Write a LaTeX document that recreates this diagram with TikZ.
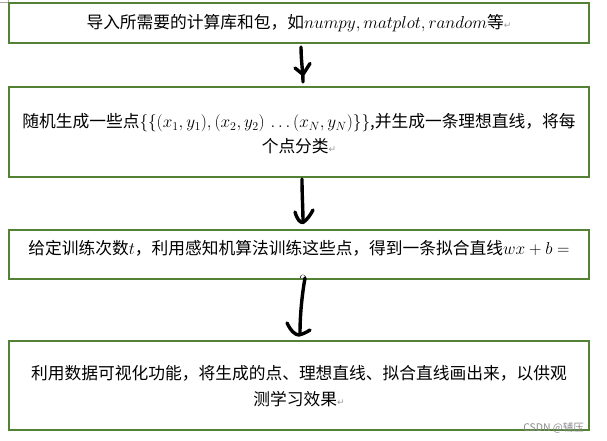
\documentclass[tikz,border=0pt]{standalone}
\usepackage{fontspec}
\newfontfamily\cjk{Noto Sans CJK SC}
\newfontfamily\symf{DejaVu Sans}
\usetikzlibrary{calc}
\definecolor{boxgreen}{RGB}{84,130,53}
\newcommand{\retmark}{{\color{black!40}\symf\fontsize{9}{9}\selectfont ↵}}
\tikzset{
  box/.style={draw=boxgreen, line width=2bp, minimum width=580bp, inner sep=0pt},
  txt/.style={anchor=base, inner sep=0pt, font=\cjk\fontsize{16.8}{20}\selectfont},
  hand/.style={draw=black, line width=3.4bp, line cap=round, line join=round},
  wmark/.style={anchor=base east, inner sep=0pt, text=black!45, font=\cjk\fontsize{10.5}{11}\selectfont}
}
\begin{document}
\begin{tikzpicture}[x=1bp, y=-1bp]
\useasboundingbox[fill=white] (0,0) rectangle (607,441);
% corner mark
\draw[black!35, line width=0.8bp] (0,2.5) -- (8,2.5) -- (8,0);
% boxes
\node[box, minimum height=40bp] (b1) at (299,23) {};
\node[box, minimum height=90bp] (b2) at (299,132) {};
\node[box, minimum height=49bp] (b3) at (299,254.5) {};
\node[box, minimum height=89bp] (b4) at (299,385.5) {};
% texts
\node[txt] (t1) at (299,29) {导入所需要的计算库和包，如$numpy, matplot, random$等\retmark};
\node[txt] (t2a) at (299,128) {随机生成一些点$\{\{(x_1,y_1),(x_2,y_2)\,\ldots(x_N,y_N)\}\}$,并生成一条理想直线，将每};
\node[txt] (t2b) at (299,153) {个点分类\retmark};
\node[txt] (t3) at (299,255) {给定训练次数$t$，利用感知机算法训练这些点，得到一条拟合直线$wx+b=$};
\begin{scope}
  \clip (10,231) rectangle (588,277.5);
  \node[txt] (t3b) at (303,287) {$0$};
\end{scope}
\node[txt] (t4a) at (299,379) {利用数据可视化功能，将生成的点、理想直线、拟合直线画出来，以供观};
\node[txt] (t4b) at (299,405) {测学习效果\retmark};
% hand-drawn arrows
\draw[hand] ($(b1.south)+(2,3)$) .. controls (301,60) and (303,72) .. ($(b2.north)+(4,-4)$);
\draw[hand] (295,68) -- (303,74.5) -- (310,63.5);
\draw[hand] ($(b2.south)+(3,1)$) .. controls (302,195) and (303,210) .. ($(b3.north)+(4,-7)$);
\draw[hand] (295,212) .. controls (297,219) and (300,223) .. (303,222.5) .. controls (307,220) and (311,214) .. (313,210);
\draw[hand] ($(b3.south)+(6,-2)$) .. controls (302,295) and (300,315) .. ($(b4.north)+(1,-7)$);
\draw[hand] (287,323) .. controls (291,331) and (295,335) .. (299,335) .. controls (303,334) and (307,332) .. (310,330);
% watermark
\node[wmark] (wm) at (584,431) {CSDN @辅压};
\end{tikzpicture}
\end{document}
